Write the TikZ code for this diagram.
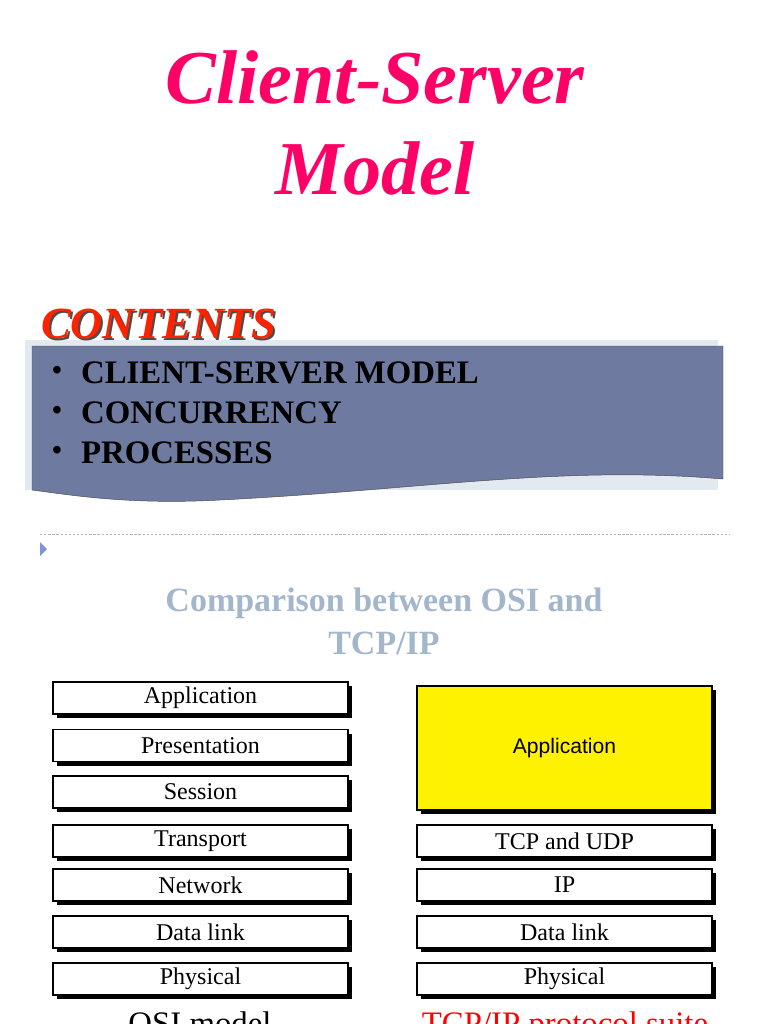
\documentclass[tikz,border=0pt]{standalone}
\usepackage{fontspec}
\setmainfont{Liberation Serif}
\newfontfamily\arial{Liberation Sans}
\definecolor{titlec}{HTML}{FF0066}
\definecolor{boxc}{HTML}{6E7A9F}
\definecolor{compc}{HTML}{A3B6CC}
\definecolor{redc}{HTML}{FF2200}
\tikzset{
 layer/.style={draw=black,fill=white,line width=0.9pt,minimum width=295*0.03cm,minimum height=32*0.03cm,inner sep=0pt,font=\fontsize{20.5}{22}\selectfont},
}
\begin{document}
\begin{tikzpicture}[x=0.03cm,y=-0.03cm]
\useasboundingbox (0,0) rectangle (768,1024);
\clip (0,0) rectangle (768,1024);
\node (t1) at (375,77) {\fontsize{65}{70}\selectfont\bfseries\itshape\color{titlec}Client-Server};
\node (t2) at (375,168) {\fontsize{65}{70}\selectfont\bfseries\itshape\color{titlec}Model};
% contents box
\fill[compc!30] (25,340) rectangle (718,490);
\fill[boxc,draw=black!70,line width=0.4pt] (32,346) -- (723,346) -- (723,479) .. controls (560,465) and (420,490) .. (220,500) .. controls (130,505) and (70,495) .. (32,490) -- cycle;
\node[anchor=west] (c) at (39,326) {\fontsize{38}{40}\selectfont\bfseries\itshape\color{black!70}CONTENTS};
\node[anchor=west] (c2) at (37,324) {\fontsize{38}{40}\selectfont\bfseries\itshape\color{redc}CONTENTS};
\foreach \y/\t [count=\i] in {373/CLIENT-SERVER MODEL,413/CONCURRENCY,453/PROCESSES}{
 \node[anchor=west] (b\i) at (48,\y) {\fontsize{24}{26}\selectfont\bfseries •};
 \node[anchor=west] (l\i) at (77,\y) {\fontsize{28}{30}\selectfont\bfseries \t};
}
\draw[compc,dash pattern=on 2pt off 1.5pt,line width=0.5pt] (40,534) -- (730,534);
\fill[compc!80!blue] (40,542) -- (47,549) -- (40,556) -- cycle;
\node (cmp1) at (384,603) {\fontsize{29}{32}\selectfont\bfseries\color{compc}Comparison between OSI and};
\node (cmp2) at (384,643) {\fontsize{29}{32}\selectfont\bfseries\color{compc}TCP/IP};
% OSI
\foreach \n/\y/\t in {a/698/Application,p/745.5/Presentation,s/792/Session,tr/841/Transport,n/885/Network,d/932/Data link,ph/979/Physical}{
 \fill (204.5,\y+4) +(-147.5,-16) rectangle +(147.5,16);
 \node[layer] (o\n) at (200.5,\y) {\t};
}
\fill (568.5,752) +(-147.5,-62) rectangle +(147.5,62);
\node[layer,fill=yellow,minimum height=124*0.03cm] (ta) at (564.5,748) {\arial\fontsize{18}{20}\selectfont Application};
\foreach \n/\y/\t in {tc/841/TCP and  UDP,ip/885/IP,d/932/Data link,ph/979/Physical}{
 \fill (568.5,\y+4) +(-147.5,-16) rectangle +(147.5,16);
 \node[layer] (t\n) at (564.5,\y) {\t};
}
\node[anchor=north] (osi) at (200,1008) {\fontsize{28}{30}\selectfont OSI model};
\node[anchor=north] (tcp) at (565,1008) {\fontsize{28}{30}\selectfont\color{red}TCP/IP protocol suite};
\end{tikzpicture}
\end{document}
